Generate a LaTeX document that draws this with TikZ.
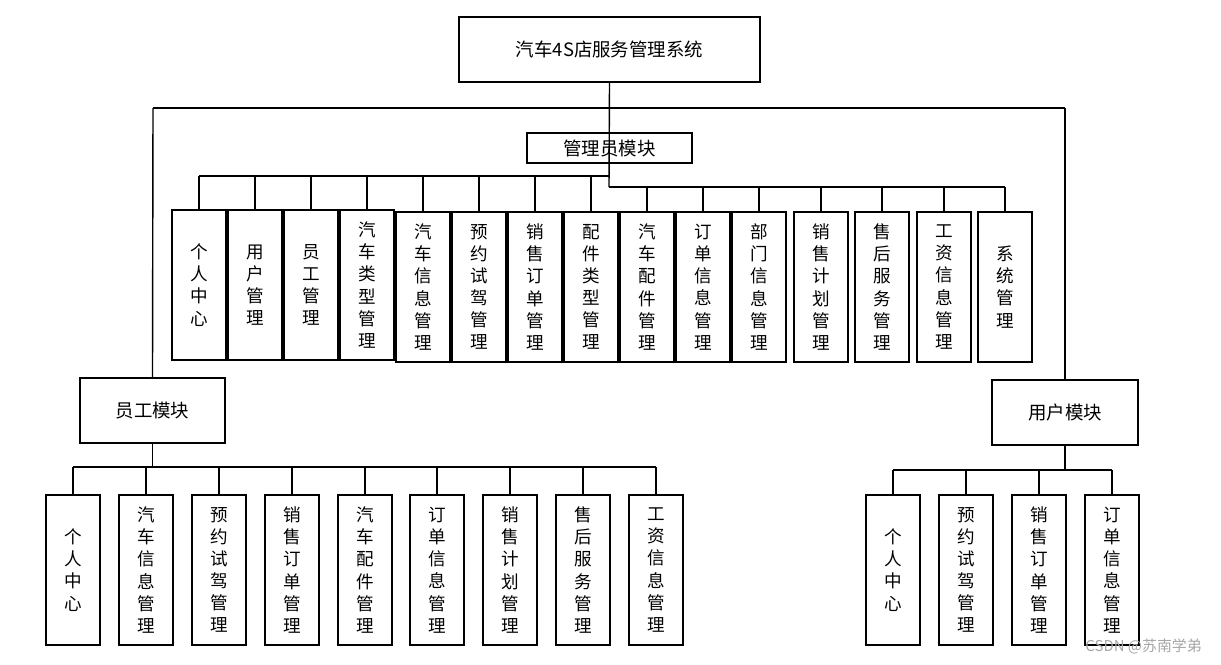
\documentclass[tikz,border=0pt]{standalone}
\usepackage{fontspec}
\setmainfont{Noto Sans CJK SC}
\begin{document}
\begin{tikzpicture}[x=0.02cm,y=-0.02cm,
  box/.style={draw,thick,minimum width=54*0.02cm,minimum height=150*0.02cm,inner sep=0pt,font=\fontsize{10pt}{12.6pt}\selectfont,align=center},
  mod/.style={draw,thick,inner sep=0pt,font=\fontsize{10.5pt}{12pt}\selectfont},
  ln/.style={thick}]
\useasboundingbox (0,0) rectangle (1221,664);
\node[mod,minimum width=301*0.02cm,minimum height=65*0.02cm] (root) at (609.5,49.5) {汽车4S店服务管理系统};
\node[mod,minimum width=165*0.02cm,minimum height=30*0.02cm] (adm) at (609.5,148) {管理员模块};
\node[mod,minimum width=145*0.02cm,minimum height=65*0.02cm] (emp) at (152.5,410.5) {员工模块};
\node[mod,minimum width=146*0.02cm,minimum height=65*0.02cm] (usr) at (1065,412.5) {用户模块};
\coordinate (t1) at (609,108);
\coordinate (t2) at (609,187);
\draw[ln] (root.south) -- (t2);
\draw[ln] (153,108) -- (1065,108);
\draw[ln] (153,108) -- (emp.north);
\draw[ln] (1065,108) -- (usr.north);
% admin children
\foreach \n/\x/\y/\t in {a1/199/285/个\\人\\中\\心, a2/255/285/用\\户\\管\\理, a3/311/285/员\\工\\管\\理, a4/367/285/汽\\车\\类\\型\\管\\理,
 a5/423/287/汽\\车\\信\\息\\管\\理, a6/479/287/预\\约\\试\\驾\\管\\理, a7/535/287/销\\售\\订\\单\\管\\理, a8/591/287/配\\件\\类\\型\\管\\理}{
  \node[box] (\n) at (\x,\y) {\t};
  \draw[ln] (\x,176) -- (\n.north);
}
\draw[ln] (199,176) -- (609,176);
\foreach \n/\x/\t in {a9/647/汽\\车\\配\\件\\管\\理, a10/703/订\\单\\信\\息\\管\\理, a11/759/部\\门\\信\\息\\管\\理, a12/821/销\\售\\计\\划\\管\\理, a13/882/售\\后\\服\\务\\管\\理, a14/944/工\\资\\信\\息\\管\\理, a15/1005/系\\统\\管\\理}{
  \node[box] (\n) at (\x,287) {\t};
  \draw[ln] (\x,187) -- (\n.north);
}
\draw[ln] (t2) -- (1005,187);
% employee children
\coordinate (eb) at (152.5,467);
\draw[ln] (emp.south) -- (eb);
\draw[ln] (73,467) -- (656,467);
\foreach \n/\x/\t in {e1/73/个\\人\\中\\心, e2/146/汽\\车\\信\\息\\管\\理, e3/219/预\\约\\试\\驾\\管\\理, e4/292/销\\售\\订\\单\\管\\理, e5/365/汽\\车\\配\\件\\管\\理, e6/437/订\\单\\信\\息\\管\\理, e7/510/销\\售\\计\\划\\管\\理, e8/583/售\\后\\服\\务\\管\\理, e9/656/工\\资\\信\\息\\管\\理}{
  \node[box] (\n) at (\x,570) {\t};
  \draw[ln] (\x,467) -- (\n.north);
}
% user children
\coordinate (ub) at (1065,470);
\draw[ln] (usr.south) -- (ub);
\draw[ln] (893,470) -- (1112,470);
\foreach \n/\x/\t in {u1/893/个\\人\\中\\心, u2/966/预\\约\\试\\驾\\管\\理, u3/1039/销\\售\\订\\单\\管\\理, u4/1112/订\\单\\信\\息\\管\\理}{
  \node[box] (\n) at (\x,570) {\t};
  \draw[ln] (\x,470) -- (\n.north);
}
\node[text=gray!70,font=\fontsize{8.5pt}{10pt}\selectfont,anchor=east] (wm) at (1208,646) {CSDN @苏南学弟};
\end{tikzpicture}
\end{document}
